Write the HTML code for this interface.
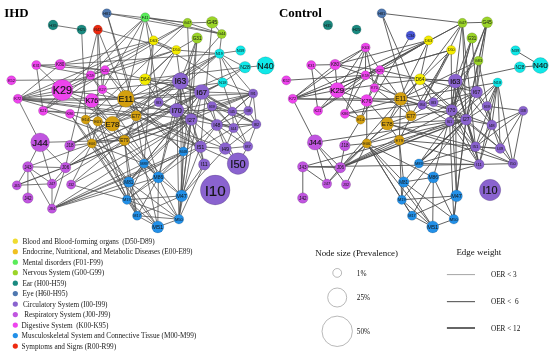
<!DOCTYPE html>
<html><head><meta charset="utf-8"><style>
html,body{margin:0;padding:0;background:#fff;width:550px;height:355px;overflow:hidden}
svg{display:block}
.e line{stroke:#505050;stroke-linecap:round}
.n circle{stroke:rgba(0,0,0,0.35);stroke-width:0.4}
.l text{font-family:"Liberation Sans",Arial,sans-serif;text-anchor:middle;fill:#151515}
.l text.b{stroke:#111;stroke-width:0.15}
.t{font-family:"Liberation Serif","Times New Roman",serif;font-weight:bold;font-size:12.9px;fill:#000}
.lg text{font-family:"Liberation Serif","Times New Roman",serif;font-size:7.26px;fill:#1a1a1a}
.s text{font-family:"Liberation Serif","Times New Roman",serif;fill:#111}
</style></head><body>
<svg width="550" height="355" viewBox="0 0 550 355">
<text class="t" x="4.2" y="16.9">IHD</text>
<text class="t" x="279.0" y="16.9">Control</text>
<g class="e">
<line x1="53.0" y1="25.0" x2="81.6" y2="29.6" stroke-width="0.78"/>
<line x1="81.6" y1="29.6" x2="85.7" y2="119.6" stroke-width="0.78"/>
<line x1="97.8" y1="29.7" x2="69.9" y2="145.6" stroke-width="0.78"/>
<line x1="97.8" y1="29.7" x2="97.8" y2="121.4" stroke-width="0.78"/>
<line x1="97.8" y1="29.7" x2="102.4" y2="89.4" stroke-width="0.78"/>
<line x1="97.8" y1="29.7" x2="125.8" y2="98.8" stroke-width="0.78"/>
<line x1="97.8" y1="29.7" x2="176.3" y2="50.0" stroke-width="0.78"/>
<line x1="106.8" y1="13.3" x2="187.5" y2="22.9" stroke-width="0.78"/>
<line x1="106.8" y1="13.3" x2="221.7" y2="34.0" stroke-width="0.78"/>
<line x1="106.8" y1="13.3" x2="136.1" y2="115.8" stroke-width="0.78"/>
<line x1="106.8" y1="13.3" x2="158.4" y2="177.3" stroke-width="0.78"/>
<line x1="145.2" y1="17.3" x2="187.5" y2="22.9" stroke-width="0.78"/>
<line x1="145.2" y1="17.3" x2="221.7" y2="34.0" stroke-width="0.78"/>
<line x1="145.2" y1="17.3" x2="153.6" y2="40.4" stroke-width="0.78"/>
<line x1="145.2" y1="17.3" x2="62.3" y2="90.1" stroke-width="0.78"/>
<line x1="145.2" y1="17.3" x2="90.6" y2="75.2" stroke-width="0.78"/>
<line x1="145.2" y1="17.3" x2="102.4" y2="89.4" stroke-width="0.78"/>
<line x1="145.2" y1="17.3" x2="125.8" y2="98.8" stroke-width="0.78"/>
<line x1="145.2" y1="17.3" x2="158.7" y2="102.2" stroke-width="0.78"/>
<line x1="187.5" y1="22.9" x2="212.2" y2="22.3" stroke-width="0.78"/>
<line x1="187.5" y1="22.9" x2="221.7" y2="34.0" stroke-width="0.78"/>
<line x1="212.2" y1="22.3" x2="221.7" y2="34.0" stroke-width="0.78"/>
<line x1="221.7" y1="34.0" x2="219.4" y2="53.6" stroke-width="0.78"/>
<line x1="187.5" y1="22.9" x2="62.3" y2="90.1" stroke-width="0.78"/>
<line x1="187.5" y1="22.9" x2="191.2" y2="119.6" stroke-width="0.78"/>
<line x1="187.5" y1="22.9" x2="85.7" y2="119.6" stroke-width="0.78"/>
<line x1="187.5" y1="22.9" x2="43.1" y2="110.8" stroke-width="0.78"/>
<line x1="212.2" y1="22.3" x2="200.6" y2="146.8" stroke-width="0.78"/>
<line x1="221.7" y1="34.0" x2="180.4" y2="81.1" stroke-width="0.78"/>
<line x1="197.1" y1="38.0" x2="176.3" y2="50.0" stroke-width="0.78"/>
<line x1="197.1" y1="38.0" x2="180.4" y2="81.1" stroke-width="0.78"/>
<line x1="197.1" y1="38.0" x2="183.4" y2="151.6" stroke-width="0.78"/>
<line x1="197.1" y1="38.0" x2="176.8" y2="110.3" stroke-width="0.78"/>
<line x1="197.1" y1="38.0" x2="191.2" y2="119.6" stroke-width="0.78"/>
<line x1="153.6" y1="40.4" x2="176.3" y2="50.0" stroke-width="0.78"/>
<line x1="153.6" y1="40.4" x2="145.1" y2="79.3" stroke-width="0.78"/>
<line x1="153.6" y1="40.4" x2="222.7" y2="82.6" stroke-width="0.78"/>
<line x1="153.6" y1="40.4" x2="144.0" y2="163.5" stroke-width="0.78"/>
<line x1="153.6" y1="40.4" x2="60.2" y2="64.6" stroke-width="0.78"/>
<line x1="153.6" y1="40.4" x2="17.8" y2="98.8" stroke-width="0.78"/>
<line x1="176.3" y1="50.0" x2="219.4" y2="53.6" stroke-width="0.78"/>
<line x1="176.3" y1="50.0" x2="180.4" y2="81.1" stroke-width="0.78"/>
<line x1="176.3" y1="50.0" x2="125.8" y2="98.8" stroke-width="0.78"/>
<line x1="176.3" y1="50.0" x2="145.1" y2="79.3" stroke-width="0.78"/>
<line x1="176.3" y1="50.0" x2="90.6" y2="75.2" stroke-width="0.78"/>
<line x1="176.3" y1="50.0" x2="124.4" y2="140.2" stroke-width="0.78"/>
<line x1="219.4" y1="53.6" x2="240.6" y2="50.5" stroke-width="0.78"/>
<line x1="219.4" y1="53.6" x2="245.0" y2="67.2" stroke-width="0.78"/>
<line x1="245.0" y1="67.2" x2="265.5" y2="65.5" stroke-width="0.78"/>
<line x1="219.4" y1="53.6" x2="222.7" y2="82.6" stroke-width="0.78"/>
<line x1="219.4" y1="53.6" x2="253.1" y2="93.5" stroke-width="0.78"/>
<line x1="219.4" y1="53.6" x2="248.3" y2="110.8" stroke-width="0.78"/>
<line x1="219.4" y1="53.6" x2="180.4" y2="81.1" stroke-width="0.78"/>
<line x1="219.4" y1="53.6" x2="60.2" y2="64.6" stroke-width="0.78"/>
<line x1="219.4" y1="53.6" x2="124.4" y2="140.2" stroke-width="0.78"/>
<line x1="219.4" y1="53.6" x2="85.7" y2="119.6" stroke-width="0.78"/>
<line x1="219.4" y1="53.6" x2="69.9" y2="145.6" stroke-width="0.78"/>
<line x1="245.0" y1="67.2" x2="145.1" y2="79.3" stroke-width="0.78"/>
<line x1="245.0" y1="67.2" x2="222.7" y2="82.6" stroke-width="0.78"/>
<line x1="245.0" y1="67.2" x2="112.4" y2="123.7" stroke-width="0.78"/>
<line x1="222.7" y1="82.6" x2="253.1" y2="93.5" stroke-width="0.78"/>
<line x1="222.7" y1="82.6" x2="201.7" y2="92.0" stroke-width="0.78"/>
<line x1="222.7" y1="82.6" x2="91.9" y2="143.4" stroke-width="0.78"/>
<line x1="222.7" y1="82.6" x2="91.8" y2="100.6" stroke-width="0.78"/>
<line x1="222.7" y1="82.6" x2="232.3" y2="111.5" stroke-width="0.78"/>
<line x1="222.7" y1="82.6" x2="65.5" y2="167.6" stroke-width="0.78"/>
<line x1="36.3" y1="65.1" x2="60.2" y2="64.6" stroke-width="0.78"/>
<line x1="36.3" y1="65.1" x2="43.1" y2="110.8" stroke-width="0.78"/>
<line x1="36.3" y1="65.1" x2="90.6" y2="75.2" stroke-width="0.78"/>
<line x1="36.3" y1="65.1" x2="62.3" y2="90.1" stroke-width="0.78"/>
<line x1="36.3" y1="65.1" x2="105.0" y2="70.1" stroke-width="0.78"/>
<line x1="60.2" y1="64.6" x2="17.8" y2="98.8" stroke-width="0.78"/>
<line x1="60.2" y1="64.6" x2="105.0" y2="70.1" stroke-width="0.78"/>
<line x1="11.4" y1="80.3" x2="145.1" y2="79.3" stroke-width="0.78"/>
<line x1="17.8" y1="98.8" x2="62.3" y2="90.1" stroke-width="0.78"/>
<line x1="17.8" y1="98.8" x2="90.6" y2="75.2" stroke-width="0.78"/>
<line x1="17.8" y1="98.8" x2="91.8" y2="100.6" stroke-width="0.78"/>
<line x1="17.8" y1="98.8" x2="125.8" y2="98.8" stroke-width="0.78"/>
<line x1="17.8" y1="98.8" x2="40.1" y2="142.4" stroke-width="0.78"/>
<line x1="17.8" y1="98.8" x2="70.0" y2="113.8" stroke-width="0.78"/>
<line x1="17.8" y1="98.8" x2="180.4" y2="81.1" stroke-width="0.78"/>
<line x1="17.8" y1="98.8" x2="176.8" y2="110.3" stroke-width="0.78"/>
<line x1="17.8" y1="98.8" x2="136.1" y2="115.8" stroke-width="0.78"/>
<line x1="17.8" y1="98.8" x2="191.2" y2="119.6" stroke-width="0.78"/>
<line x1="43.1" y1="110.8" x2="62.3" y2="90.1" stroke-width="0.78"/>
<line x1="43.1" y1="110.8" x2="90.6" y2="75.2" stroke-width="0.78"/>
<line x1="43.1" y1="110.8" x2="136.1" y2="115.8" stroke-width="0.78"/>
<line x1="43.1" y1="110.8" x2="70.0" y2="113.8" stroke-width="0.78"/>
<line x1="43.1" y1="110.8" x2="124.4" y2="140.2" stroke-width="0.78"/>
<line x1="62.3" y1="90.1" x2="91.8" y2="100.6" stroke-width="0.78"/>
<line x1="62.3" y1="90.1" x2="125.8" y2="98.8" stroke-width="0.78"/>
<line x1="62.3" y1="90.1" x2="176.3" y2="50.0" stroke-width="0.78"/>
<line x1="62.3" y1="90.1" x2="112.4" y2="123.7" stroke-width="0.78"/>
<line x1="90.6" y1="75.2" x2="105.0" y2="70.1" stroke-width="0.78"/>
<line x1="90.6" y1="75.2" x2="102.4" y2="89.4" stroke-width="0.78"/>
<line x1="90.6" y1="75.2" x2="158.4" y2="177.3" stroke-width="0.78"/>
<line x1="105.0" y1="70.1" x2="102.4" y2="89.4" stroke-width="0.78"/>
<line x1="105.0" y1="70.1" x2="125.8" y2="98.8" stroke-width="0.78"/>
<line x1="105.0" y1="70.1" x2="183.4" y2="151.6" stroke-width="0.78"/>
<line x1="105.0" y1="70.1" x2="201.7" y2="92.0" stroke-width="0.78"/>
<line x1="102.4" y1="89.4" x2="91.8" y2="100.6" stroke-width="0.78"/>
<line x1="102.4" y1="89.4" x2="200.6" y2="146.8" stroke-width="0.78"/>
<line x1="91.8" y1="100.6" x2="125.8" y2="98.8" stroke-width="0.78"/>
<line x1="91.8" y1="100.6" x2="112.4" y2="123.7" stroke-width="0.78"/>
<line x1="91.8" y1="100.6" x2="178.9" y2="219.2" stroke-width="0.78"/>
<line x1="91.8" y1="100.6" x2="137.1" y2="215.7" stroke-width="0.78"/>
<line x1="70.0" y1="113.8" x2="85.7" y2="119.6" stroke-width="0.78"/>
<line x1="70.0" y1="113.8" x2="91.9" y2="143.4" stroke-width="0.78"/>
<line x1="70.0" y1="113.8" x2="126.9" y2="199.8" stroke-width="0.78"/>
<line x1="85.7" y1="119.6" x2="97.8" y2="121.4" stroke-width="0.78"/>
<line x1="85.7" y1="119.6" x2="112.4" y2="123.7" stroke-width="0.78"/>
<line x1="85.7" y1="119.6" x2="91.9" y2="143.4" stroke-width="0.78"/>
<line x1="85.7" y1="119.6" x2="128.8" y2="182.0" stroke-width="0.78"/>
<line x1="85.7" y1="119.6" x2="180.4" y2="81.1" stroke-width="0.78"/>
<line x1="85.7" y1="119.6" x2="137.1" y2="215.7" stroke-width="0.78"/>
<line x1="97.8" y1="121.4" x2="112.4" y2="123.7" stroke-width="0.78"/>
<line x1="97.8" y1="121.4" x2="91.9" y2="143.4" stroke-width="0.78"/>
<line x1="97.8" y1="121.4" x2="126.9" y2="199.8" stroke-width="0.78"/>
<line x1="97.8" y1="121.4" x2="158.4" y2="177.3" stroke-width="0.78"/>
<line x1="125.8" y1="98.8" x2="136.1" y2="115.8" stroke-width="0.78"/>
<line x1="125.8" y1="98.8" x2="201.7" y2="92.0" stroke-width="0.78"/>
<line x1="125.8" y1="98.8" x2="191.2" y2="119.6" stroke-width="0.78"/>
<line x1="125.8" y1="98.8" x2="183.4" y2="151.6" stroke-width="0.78"/>
<line x1="125.8" y1="98.8" x2="112.4" y2="123.7" stroke-width="0.78"/>
<line x1="125.8" y1="98.8" x2="253.1" y2="93.5" stroke-width="0.78"/>
<line x1="112.4" y1="123.7" x2="136.1" y2="115.8" stroke-width="0.78"/>
<line x1="112.4" y1="123.7" x2="124.4" y2="140.2" stroke-width="0.78"/>
<line x1="112.4" y1="123.7" x2="91.9" y2="143.4" stroke-width="0.78"/>
<line x1="112.4" y1="123.7" x2="200.6" y2="146.8" stroke-width="0.78"/>
<line x1="112.4" y1="123.7" x2="180.4" y2="81.1" stroke-width="0.78"/>
<line x1="112.4" y1="123.7" x2="181.6" y2="195.9" stroke-width="0.78"/>
<line x1="136.1" y1="115.8" x2="176.8" y2="110.3" stroke-width="0.78"/>
<line x1="136.1" y1="115.8" x2="158.7" y2="102.2" stroke-width="0.78"/>
<line x1="136.1" y1="115.8" x2="200.6" y2="146.8" stroke-width="0.78"/>
<line x1="136.1" y1="115.8" x2="225.3" y2="148.5" stroke-width="0.78"/>
<line x1="136.1" y1="115.8" x2="124.4" y2="140.2" stroke-width="0.78"/>
<line x1="136.1" y1="115.8" x2="144.0" y2="163.5" stroke-width="0.78"/>
<line x1="136.1" y1="115.8" x2="180.4" y2="81.1" stroke-width="0.78"/>
<line x1="124.4" y1="140.2" x2="91.9" y2="143.4" stroke-width="0.78"/>
<line x1="124.4" y1="140.2" x2="158.4" y2="177.3" stroke-width="0.78"/>
<line x1="124.4" y1="140.2" x2="128.8" y2="182.0" stroke-width="0.78"/>
<line x1="124.4" y1="140.2" x2="201.7" y2="92.0" stroke-width="0.78"/>
<line x1="124.4" y1="140.2" x2="212.0" y2="106.2" stroke-width="0.78"/>
<line x1="124.4" y1="140.2" x2="137.1" y2="215.7" stroke-width="0.78"/>
<line x1="124.4" y1="140.2" x2="253.1" y2="93.5" stroke-width="0.78"/>
<line x1="91.9" y1="143.4" x2="128.8" y2="182.0" stroke-width="0.78"/>
<line x1="91.9" y1="143.4" x2="126.9" y2="199.8" stroke-width="0.78"/>
<line x1="91.9" y1="143.4" x2="144.0" y2="163.5" stroke-width="0.78"/>
<line x1="91.9" y1="143.4" x2="201.7" y2="92.0" stroke-width="0.78"/>
<line x1="91.9" y1="143.4" x2="191.2" y2="119.6" stroke-width="0.78"/>
<line x1="91.9" y1="143.4" x2="157.8" y2="226.9" stroke-width="0.78"/>
<line x1="145.1" y1="79.3" x2="180.4" y2="81.1" stroke-width="0.78"/>
<line x1="145.1" y1="79.3" x2="158.7" y2="102.2" stroke-width="0.78"/>
<line x1="145.1" y1="79.3" x2="201.7" y2="92.0" stroke-width="0.78"/>
<line x1="145.1" y1="79.3" x2="216.9" y2="125.0" stroke-width="0.78"/>
<line x1="158.7" y1="102.2" x2="180.4" y2="81.1" stroke-width="0.78"/>
<line x1="158.7" y1="102.2" x2="176.8" y2="110.3" stroke-width="0.78"/>
<line x1="158.7" y1="102.2" x2="191.2" y2="119.6" stroke-width="0.78"/>
<line x1="158.7" y1="102.2" x2="233.6" y2="128.0" stroke-width="0.78"/>
<line x1="180.4" y1="81.1" x2="201.7" y2="92.0" stroke-width="0.78"/>
<line x1="180.4" y1="81.1" x2="176.8" y2="110.3" stroke-width="0.78"/>
<line x1="180.4" y1="81.1" x2="191.2" y2="119.6" stroke-width="0.78"/>
<line x1="180.4" y1="81.1" x2="232.3" y2="111.5" stroke-width="0.78"/>
<line x1="180.4" y1="81.1" x2="183.4" y2="151.6" stroke-width="0.78"/>
<line x1="180.4" y1="81.1" x2="181.6" y2="195.9" stroke-width="0.78"/>
<line x1="180.4" y1="81.1" x2="256.4" y2="124.2" stroke-width="0.78"/>
<line x1="201.7" y1="92.0" x2="212.0" y2="106.2" stroke-width="0.78"/>
<line x1="201.7" y1="92.0" x2="191.2" y2="119.6" stroke-width="0.78"/>
<line x1="201.7" y1="92.0" x2="216.9" y2="125.0" stroke-width="0.78"/>
<line x1="201.7" y1="92.0" x2="253.1" y2="93.5" stroke-width="0.78"/>
<line x1="201.7" y1="92.0" x2="256.4" y2="124.2" stroke-width="0.78"/>
<line x1="201.7" y1="92.0" x2="233.6" y2="128.0" stroke-width="0.78"/>
<line x1="201.7" y1="92.0" x2="178.9" y2="219.2" stroke-width="0.78"/>
<line x1="176.8" y1="110.3" x2="191.2" y2="119.6" stroke-width="0.78"/>
<line x1="176.8" y1="110.3" x2="200.6" y2="146.8" stroke-width="0.78"/>
<line x1="176.8" y1="110.3" x2="233.6" y2="128.0" stroke-width="0.78"/>
<line x1="176.8" y1="110.3" x2="158.4" y2="177.3" stroke-width="0.78"/>
<line x1="176.8" y1="110.3" x2="204.2" y2="164.4" stroke-width="0.78"/>
<line x1="176.8" y1="110.3" x2="178.9" y2="219.2" stroke-width="0.78"/>
<line x1="176.8" y1="110.3" x2="248.3" y2="110.8" stroke-width="0.78"/>
<line x1="253.1" y1="93.5" x2="248.3" y2="110.8" stroke-width="0.78"/>
<line x1="253.1" y1="93.5" x2="256.4" y2="124.2" stroke-width="0.78"/>
<line x1="253.1" y1="93.5" x2="212.0" y2="106.2" stroke-width="0.78"/>
<line x1="253.1" y1="93.5" x2="216.9" y2="125.0" stroke-width="0.78"/>
<line x1="253.1" y1="93.5" x2="232.3" y2="111.5" stroke-width="0.78"/>
<line x1="253.1" y1="93.5" x2="176.8" y2="110.3" stroke-width="0.78"/>
<line x1="253.1" y1="93.5" x2="191.2" y2="119.6" stroke-width="0.78"/>
<line x1="212.0" y1="106.2" x2="216.9" y2="125.0" stroke-width="0.78"/>
<line x1="212.0" y1="106.2" x2="256.4" y2="124.2" stroke-width="0.78"/>
<line x1="212.0" y1="106.2" x2="232.3" y2="111.5" stroke-width="0.78"/>
<line x1="212.0" y1="106.2" x2="233.6" y2="128.0" stroke-width="0.78"/>
<line x1="232.3" y1="111.5" x2="233.6" y2="128.0" stroke-width="0.78"/>
<line x1="232.3" y1="111.5" x2="216.9" y2="125.0" stroke-width="0.78"/>
<line x1="232.3" y1="111.5" x2="248.0" y2="146.4" stroke-width="0.78"/>
<line x1="232.3" y1="111.5" x2="256.4" y2="124.2" stroke-width="0.78"/>
<line x1="248.3" y1="110.8" x2="256.4" y2="124.2" stroke-width="0.78"/>
<line x1="248.3" y1="110.8" x2="216.9" y2="125.0" stroke-width="0.78"/>
<line x1="248.3" y1="110.8" x2="233.6" y2="128.0" stroke-width="0.78"/>
<line x1="256.4" y1="124.2" x2="216.9" y2="125.0" stroke-width="0.78"/>
<line x1="256.4" y1="124.2" x2="233.6" y2="128.0" stroke-width="0.78"/>
<line x1="256.4" y1="124.2" x2="248.0" y2="146.4" stroke-width="0.78"/>
<line x1="256.4" y1="124.2" x2="225.3" y2="148.5" stroke-width="0.78"/>
<line x1="233.6" y1="128.0" x2="216.9" y2="125.0" stroke-width="0.78"/>
<line x1="233.6" y1="128.0" x2="248.0" y2="146.4" stroke-width="0.78"/>
<line x1="233.6" y1="128.0" x2="225.3" y2="148.5" stroke-width="0.78"/>
<line x1="233.6" y1="128.0" x2="200.6" y2="146.8" stroke-width="0.78"/>
<line x1="191.2" y1="119.6" x2="216.9" y2="125.0" stroke-width="0.78"/>
<line x1="191.2" y1="119.6" x2="200.6" y2="146.8" stroke-width="0.78"/>
<line x1="191.2" y1="119.6" x2="225.3" y2="148.5" stroke-width="0.78"/>
<line x1="191.2" y1="119.6" x2="204.2" y2="164.4" stroke-width="0.78"/>
<line x1="191.2" y1="119.6" x2="181.6" y2="195.9" stroke-width="0.78"/>
<line x1="191.2" y1="119.6" x2="178.9" y2="219.2" stroke-width="0.78"/>
<line x1="191.2" y1="119.6" x2="183.4" y2="151.6" stroke-width="0.78"/>
<line x1="216.9" y1="125.0" x2="200.6" y2="146.8" stroke-width="0.78"/>
<line x1="216.9" y1="125.0" x2="225.3" y2="148.5" stroke-width="0.78"/>
<line x1="216.9" y1="125.0" x2="248.0" y2="146.4" stroke-width="0.78"/>
<line x1="216.9" y1="125.0" x2="238.0" y2="163.6" stroke-width="0.78"/>
<line x1="200.6" y1="146.8" x2="225.3" y2="148.5" stroke-width="0.78"/>
<line x1="200.6" y1="146.8" x2="204.2" y2="164.4" stroke-width="0.78"/>
<line x1="200.6" y1="146.8" x2="238.0" y2="163.6" stroke-width="0.78"/>
<line x1="225.3" y1="148.5" x2="238.0" y2="163.6" stroke-width="0.78"/>
<line x1="225.3" y1="148.5" x2="248.0" y2="146.4" stroke-width="0.78"/>
<line x1="248.0" y1="146.4" x2="238.0" y2="163.6" stroke-width="0.78"/>
<line x1="183.4" y1="151.6" x2="181.6" y2="195.9" stroke-width="0.78"/>
<line x1="183.4" y1="151.6" x2="178.9" y2="219.2" stroke-width="0.78"/>
<line x1="183.4" y1="151.6" x2="158.4" y2="177.3" stroke-width="0.78"/>
<line x1="183.4" y1="151.6" x2="128.8" y2="182.0" stroke-width="0.78"/>
<line x1="200.6" y1="146.8" x2="181.6" y2="195.9" stroke-width="0.78"/>
<line x1="204.2" y1="164.4" x2="181.6" y2="195.9" stroke-width="0.78"/>
<line x1="204.2" y1="164.4" x2="178.9" y2="219.2" stroke-width="0.78"/>
<line x1="200.6" y1="146.8" x2="158.4" y2="177.3" stroke-width="0.78"/>
<line x1="225.3" y1="148.5" x2="181.6" y2="195.9" stroke-width="0.78"/>
<line x1="144.0" y1="163.5" x2="128.8" y2="182.0" stroke-width="0.78"/>
<line x1="144.0" y1="163.5" x2="158.4" y2="177.3" stroke-width="0.78"/>
<line x1="144.0" y1="163.5" x2="126.9" y2="199.8" stroke-width="0.78"/>
<line x1="144.0" y1="163.5" x2="157.8" y2="226.9" stroke-width="0.78"/>
<line x1="144.0" y1="163.5" x2="191.2" y2="119.6" stroke-width="0.78"/>
<line x1="144.0" y1="163.5" x2="201.7" y2="92.0" stroke-width="0.78"/>
<line x1="158.4" y1="177.3" x2="126.9" y2="199.8" stroke-width="0.78"/>
<line x1="158.4" y1="177.3" x2="137.1" y2="215.7" stroke-width="0.78"/>
<line x1="158.4" y1="177.3" x2="157.8" y2="226.9" stroke-width="0.78"/>
<line x1="158.4" y1="177.3" x2="178.9" y2="219.2" stroke-width="0.78"/>
<line x1="158.4" y1="177.3" x2="181.6" y2="195.9" stroke-width="0.78"/>
<line x1="158.4" y1="177.3" x2="180.4" y2="81.1" stroke-width="0.78"/>
<line x1="128.8" y1="182.0" x2="126.9" y2="199.8" stroke-width="0.78"/>
<line x1="128.8" y1="182.0" x2="137.1" y2="215.7" stroke-width="0.78"/>
<line x1="128.8" y1="182.0" x2="157.8" y2="226.9" stroke-width="0.78"/>
<line x1="128.8" y1="182.0" x2="178.9" y2="219.2" stroke-width="0.78"/>
<line x1="128.8" y1="182.0" x2="201.7" y2="92.0" stroke-width="0.78"/>
<line x1="128.8" y1="182.0" x2="191.2" y2="119.6" stroke-width="0.78"/>
<line x1="126.9" y1="199.8" x2="137.1" y2="215.7" stroke-width="0.78"/>
<line x1="126.9" y1="199.8" x2="157.8" y2="226.9" stroke-width="0.78"/>
<line x1="126.9" y1="199.8" x2="178.9" y2="219.2" stroke-width="0.78"/>
<line x1="126.9" y1="199.8" x2="216.9" y2="125.0" stroke-width="0.78"/>
<line x1="181.6" y1="195.9" x2="137.1" y2="215.7" stroke-width="0.78"/>
<line x1="181.6" y1="195.9" x2="126.9" y2="199.8" stroke-width="0.78"/>
<line x1="181.6" y1="195.9" x2="178.9" y2="219.2" stroke-width="0.78"/>
<line x1="137.1" y1="215.7" x2="157.8" y2="226.9" stroke-width="0.78"/>
<line x1="157.8" y1="226.9" x2="178.9" y2="219.2" stroke-width="0.78"/>
<line x1="137.1" y1="215.7" x2="178.9" y2="219.2" stroke-width="0.78"/>
<line x1="40.1" y1="142.4" x2="27.9" y2="166.8" stroke-width="0.78"/>
<line x1="40.1" y1="142.4" x2="65.5" y2="167.6" stroke-width="0.78"/>
<line x1="40.1" y1="142.4" x2="52.0" y2="183.8" stroke-width="0.78"/>
<line x1="40.1" y1="142.4" x2="124.4" y2="140.2" stroke-width="0.78"/>
<line x1="27.9" y1="166.8" x2="65.5" y2="167.6" stroke-width="0.78"/>
<line x1="27.9" y1="166.8" x2="52.0" y2="183.8" stroke-width="0.78"/>
<line x1="27.9" y1="166.8" x2="16.8" y2="185.3" stroke-width="0.78"/>
<line x1="27.9" y1="166.8" x2="27.9" y2="198.0" stroke-width="0.78"/>
<line x1="27.9" y1="166.8" x2="52.0" y2="208.7" stroke-width="0.78"/>
<line x1="27.9" y1="166.8" x2="91.9" y2="143.4" stroke-width="0.78"/>
<line x1="16.8" y1="185.3" x2="52.0" y2="183.8" stroke-width="0.78"/>
<line x1="52.0" y1="183.8" x2="65.5" y2="167.6" stroke-width="0.78"/>
<line x1="52.0" y1="183.8" x2="52.0" y2="208.7" stroke-width="0.78"/>
<line x1="65.5" y1="167.6" x2="52.0" y2="208.7" stroke-width="0.78"/>
<line x1="65.5" y1="167.6" x2="69.9" y2="145.6" stroke-width="0.78"/>
<line x1="52.0" y1="183.8" x2="124.4" y2="140.2" stroke-width="0.78"/>
<line x1="69.9" y1="145.6" x2="91.9" y2="143.4" stroke-width="0.78"/>
<line x1="71.1" y1="184.6" x2="91.9" y2="143.4" stroke-width="0.78"/>
<line x1="65.5" y1="167.6" x2="91.9" y2="143.4" stroke-width="0.78"/>
<line x1="65.5" y1="167.6" x2="201.7" y2="92.0" stroke-width="0.78"/>
<line x1="69.9" y1="145.6" x2="180.4" y2="81.1" stroke-width="0.78"/>
<line x1="71.1" y1="184.6" x2="191.2" y2="119.6" stroke-width="0.78"/>
<line x1="52.0" y1="208.7" x2="128.8" y2="182.0" stroke-width="0.78"/>
<line x1="52.0" y1="208.7" x2="144.0" y2="163.5" stroke-width="0.78"/>
<line x1="52.0" y1="208.7" x2="158.4" y2="177.3" stroke-width="0.78"/>
<line x1="52.0" y1="208.7" x2="200.6" y2="146.8" stroke-width="0.78"/>
<line x1="52.0" y1="208.7" x2="183.4" y2="151.6" stroke-width="0.78"/>
<line x1="52.0" y1="208.7" x2="191.2" y2="119.6" stroke-width="0.78"/>
<line x1="71.1" y1="184.6" x2="126.9" y2="199.8" stroke-width="0.78"/>
<line x1="71.1" y1="184.6" x2="124.4" y2="140.2" stroke-width="0.78"/>
<line x1="69.9" y1="145.6" x2="112.4" y2="123.7" stroke-width="0.78"/>
<line x1="16.8" y1="185.3" x2="191.2" y2="119.6" stroke-width="1.1"/>
<line x1="381.7" y1="13.3" x2="462.4" y2="22.9" stroke-width="0.9"/>
<line x1="381.7" y1="13.3" x2="422.2" y2="104.9" stroke-width="0.9"/>
<line x1="381.7" y1="13.3" x2="411.0" y2="115.8" stroke-width="0.9"/>
<line x1="410.7" y1="35.5" x2="360.6" y2="119.6" stroke-width="0.9"/>
<line x1="515.5" y1="50.5" x2="540.4" y2="65.5" stroke-width="0.9"/>
<line x1="519.9" y1="67.2" x2="540.4" y2="65.5" stroke-width="0.9"/>
<line x1="519.9" y1="67.2" x2="455.3" y2="81.1" stroke-width="0.9"/>
<line x1="497.6" y1="82.6" x2="491.8" y2="125.0" stroke-width="0.9"/>
<line x1="497.6" y1="82.6" x2="466.1" y2="119.6" stroke-width="0.9"/>
<line x1="497.6" y1="82.6" x2="449.6" y2="121.7" stroke-width="0.9"/>
<line x1="497.6" y1="82.6" x2="475.5" y2="146.8" stroke-width="0.9"/>
<line x1="497.6" y1="82.6" x2="500.2" y2="148.5" stroke-width="0.9"/>
<line x1="497.6" y1="82.6" x2="486.9" y2="106.2" stroke-width="0.9"/>
<line x1="497.6" y1="82.6" x2="400.7" y2="98.8" stroke-width="0.9"/>
<line x1="497.6" y1="82.6" x2="479.1" y2="164.4" stroke-width="0.9"/>
<line x1="497.6" y1="82.6" x2="512.9" y2="163.6" stroke-width="0.9"/>
<line x1="462.4" y1="22.9" x2="487.1" y2="22.3" stroke-width="0.9"/>
<line x1="462.4" y1="22.9" x2="337.2" y2="90.1" stroke-width="0.9"/>
<line x1="462.4" y1="22.9" x2="365.5" y2="75.2" stroke-width="0.9"/>
<line x1="462.4" y1="22.9" x2="420.0" y2="79.3" stroke-width="0.9"/>
<line x1="462.4" y1="22.9" x2="422.2" y2="104.9" stroke-width="0.9"/>
<line x1="462.4" y1="22.9" x2="455.3" y2="81.1" stroke-width="0.9"/>
<line x1="462.4" y1="22.9" x2="466.1" y2="119.6" stroke-width="0.9"/>
<line x1="462.4" y1="22.9" x2="475.5" y2="146.8" stroke-width="0.9"/>
<line x1="487.1" y1="22.3" x2="478.4" y2="60.8" stroke-width="0.9"/>
<line x1="487.1" y1="22.3" x2="451.7" y2="110.3" stroke-width="0.9"/>
<line x1="487.1" y1="22.3" x2="466.1" y2="119.6" stroke-width="0.9"/>
<line x1="487.1" y1="22.3" x2="449.6" y2="121.7" stroke-width="0.9"/>
<line x1="487.1" y1="22.3" x2="476.6" y2="92.0" stroke-width="0.9"/>
<line x1="472.0" y1="38.0" x2="455.3" y2="81.1" stroke-width="0.9"/>
<line x1="472.0" y1="38.0" x2="451.7" y2="110.3" stroke-width="0.9"/>
<line x1="472.0" y1="38.0" x2="449.6" y2="121.7" stroke-width="0.9"/>
<line x1="472.0" y1="38.0" x2="476.6" y2="92.0" stroke-width="0.9"/>
<line x1="478.4" y1="60.8" x2="455.3" y2="81.1" stroke-width="0.9"/>
<line x1="478.4" y1="60.8" x2="476.6" y2="92.0" stroke-width="0.9"/>
<line x1="478.4" y1="60.8" x2="466.1" y2="119.6" stroke-width="0.9"/>
<line x1="478.4" y1="60.8" x2="491.8" y2="125.0" stroke-width="0.9"/>
<line x1="478.4" y1="60.8" x2="400.7" y2="98.8" stroke-width="0.9"/>
<line x1="428.5" y1="40.4" x2="420.0" y2="79.3" stroke-width="0.9"/>
<line x1="428.5" y1="40.4" x2="379.9" y2="70.1" stroke-width="0.9"/>
<line x1="428.5" y1="40.4" x2="337.2" y2="90.1" stroke-width="0.9"/>
<line x1="428.5" y1="40.4" x2="292.7" y2="98.8" stroke-width="0.9"/>
<line x1="428.5" y1="40.4" x2="387.3" y2="123.7" stroke-width="0.9"/>
<line x1="428.5" y1="40.4" x2="335.1" y2="64.6" stroke-width="0.9"/>
<line x1="451.2" y1="50.0" x2="379.9" y2="70.1" stroke-width="0.9"/>
<line x1="451.2" y1="50.0" x2="400.7" y2="98.8" stroke-width="0.9"/>
<line x1="451.2" y1="50.0" x2="422.2" y2="104.9" stroke-width="0.9"/>
<line x1="451.2" y1="50.0" x2="411.0" y2="115.8" stroke-width="0.9"/>
<line x1="451.2" y1="50.0" x2="451.7" y2="110.3" stroke-width="0.9"/>
<line x1="420.0" y1="79.3" x2="455.3" y2="81.1" stroke-width="0.9"/>
<line x1="420.0" y1="79.3" x2="451.7" y2="110.3" stroke-width="0.9"/>
<line x1="420.0" y1="79.3" x2="337.2" y2="90.1" stroke-width="0.9"/>
<line x1="420.0" y1="79.3" x2="433.6" y2="102.2" stroke-width="0.9"/>
<line x1="420.0" y1="79.3" x2="400.7" y2="98.8" stroke-width="0.9"/>
<line x1="420.0" y1="79.3" x2="466.1" y2="119.6" stroke-width="0.9"/>
<line x1="420.0" y1="79.3" x2="387.3" y2="123.7" stroke-width="0.9"/>
<line x1="311.2" y1="65.1" x2="335.1" y2="64.6" stroke-width="0.9"/>
<line x1="311.2" y1="65.1" x2="318.0" y2="110.8" stroke-width="0.9"/>
<line x1="311.2" y1="65.1" x2="337.2" y2="90.1" stroke-width="0.9"/>
<line x1="335.1" y1="64.6" x2="365.6" y2="47.5" stroke-width="0.9"/>
<line x1="335.1" y1="64.6" x2="337.2" y2="90.1" stroke-width="0.9"/>
<line x1="335.1" y1="64.6" x2="379.9" y2="70.1" stroke-width="0.9"/>
<line x1="335.1" y1="64.6" x2="365.5" y2="75.2" stroke-width="0.9"/>
<line x1="365.6" y1="47.5" x2="337.2" y2="90.1" stroke-width="0.9"/>
<line x1="365.6" y1="47.5" x2="365.5" y2="75.2" stroke-width="0.9"/>
<line x1="365.6" y1="47.5" x2="379.9" y2="70.1" stroke-width="0.9"/>
<line x1="365.6" y1="47.5" x2="344.9" y2="113.8" stroke-width="0.9"/>
<line x1="365.6" y1="47.5" x2="292.7" y2="98.8" stroke-width="0.9"/>
<line x1="365.6" y1="47.5" x2="374.4" y2="87.9" stroke-width="0.9"/>
<line x1="292.7" y1="98.8" x2="335.1" y2="64.6" stroke-width="0.9"/>
<line x1="292.7" y1="98.8" x2="337.2" y2="90.1" stroke-width="0.9"/>
<line x1="292.7" y1="98.8" x2="315.0" y2="142.4" stroke-width="0.9"/>
<line x1="292.7" y1="98.8" x2="365.5" y2="75.2" stroke-width="0.9"/>
<line x1="292.7" y1="98.8" x2="379.9" y2="70.1" stroke-width="0.9"/>
<line x1="292.7" y1="98.8" x2="366.7" y2="100.6" stroke-width="0.9"/>
<line x1="292.7" y1="98.8" x2="400.7" y2="98.8" stroke-width="0.9"/>
<line x1="286.3" y1="80.3" x2="365.5" y2="75.2" stroke-width="0.9"/>
<line x1="318.0" y1="110.8" x2="337.2" y2="90.1" stroke-width="0.9"/>
<line x1="318.0" y1="110.8" x2="379.9" y2="70.1" stroke-width="0.9"/>
<line x1="318.0" y1="110.8" x2="365.5" y2="75.2" stroke-width="0.9"/>
<line x1="337.2" y1="90.1" x2="366.7" y2="100.6" stroke-width="0.9"/>
<line x1="337.2" y1="90.1" x2="360.6" y2="119.6" stroke-width="0.9"/>
<line x1="365.5" y1="75.2" x2="379.9" y2="70.1" stroke-width="0.9"/>
<line x1="365.5" y1="75.2" x2="344.9" y2="113.8" stroke-width="0.9"/>
<line x1="365.5" y1="75.2" x2="455.3" y2="81.1" stroke-width="0.9"/>
<line x1="365.5" y1="75.2" x2="400.7" y2="98.8" stroke-width="0.9"/>
<line x1="379.9" y1="70.1" x2="374.4" y2="87.9" stroke-width="0.9"/>
<line x1="379.9" y1="70.1" x2="400.7" y2="98.8" stroke-width="0.9"/>
<line x1="379.9" y1="70.1" x2="366.7" y2="100.6" stroke-width="0.9"/>
<line x1="379.9" y1="70.1" x2="476.6" y2="92.0" stroke-width="0.9"/>
<line x1="379.9" y1="70.1" x2="451.2" y2="50.0" stroke-width="0.9"/>
<line x1="374.4" y1="87.9" x2="366.7" y2="100.6" stroke-width="0.9"/>
<line x1="374.4" y1="87.9" x2="411.0" y2="115.8" stroke-width="0.9"/>
<line x1="374.4" y1="87.9" x2="451.7" y2="110.3" stroke-width="0.9"/>
<line x1="366.7" y1="100.6" x2="400.7" y2="98.8" stroke-width="0.9"/>
<line x1="366.7" y1="100.6" x2="422.2" y2="104.9" stroke-width="0.9"/>
<line x1="366.7" y1="100.6" x2="387.3" y2="123.7" stroke-width="0.9"/>
<line x1="366.7" y1="100.6" x2="360.6" y2="119.6" stroke-width="0.9"/>
<line x1="344.9" y1="113.8" x2="360.6" y2="119.6" stroke-width="0.9"/>
<line x1="344.9" y1="113.8" x2="400.7" y2="98.8" stroke-width="0.9"/>
<line x1="344.9" y1="113.8" x2="433.6" y2="102.2" stroke-width="0.9"/>
<line x1="360.6" y1="119.6" x2="411.0" y2="115.8" stroke-width="0.9"/>
<line x1="360.6" y1="119.6" x2="344.8" y2="145.6" stroke-width="0.9"/>
<line x1="366.7" y1="100.6" x2="366.8" y2="143.4" stroke-width="0.9"/>
<line x1="400.7" y1="98.8" x2="411.0" y2="115.8" stroke-width="0.9"/>
<line x1="400.7" y1="98.8" x2="422.2" y2="104.9" stroke-width="0.9"/>
<line x1="400.7" y1="98.8" x2="466.1" y2="119.6" stroke-width="0.9"/>
<line x1="400.7" y1="98.8" x2="399.3" y2="140.2" stroke-width="0.9"/>
<line x1="387.3" y1="123.7" x2="411.0" y2="115.8" stroke-width="0.9"/>
<line x1="387.3" y1="123.7" x2="399.3" y2="140.2" stroke-width="0.9"/>
<line x1="387.3" y1="123.7" x2="466.1" y2="119.6" stroke-width="0.9"/>
<line x1="387.3" y1="123.7" x2="366.8" y2="143.4" stroke-width="0.9"/>
<line x1="387.3" y1="123.7" x2="475.5" y2="146.8" stroke-width="0.9"/>
<line x1="387.3" y1="123.7" x2="512.9" y2="163.6" stroke-width="0.9"/>
<line x1="411.0" y1="115.8" x2="433.6" y2="102.2" stroke-width="0.9"/>
<line x1="411.0" y1="115.8" x2="451.7" y2="110.3" stroke-width="0.9"/>
<line x1="411.0" y1="115.8" x2="399.3" y2="140.2" stroke-width="0.9"/>
<line x1="399.3" y1="140.2" x2="403.7" y2="182.0" stroke-width="0.9"/>
<line x1="399.3" y1="140.2" x2="401.8" y2="199.8" stroke-width="0.9"/>
<line x1="399.3" y1="140.2" x2="466.1" y2="119.6" stroke-width="0.9"/>
<line x1="399.3" y1="140.2" x2="479.1" y2="164.4" stroke-width="0.9"/>
<line x1="399.3" y1="140.2" x2="500.2" y2="148.5" stroke-width="0.9"/>
<line x1="366.8" y1="143.4" x2="403.7" y2="182.0" stroke-width="0.9"/>
<line x1="366.8" y1="143.4" x2="401.8" y2="199.8" stroke-width="0.9"/>
<line x1="366.8" y1="143.4" x2="432.7" y2="226.9" stroke-width="0.9"/>
<line x1="366.8" y1="143.4" x2="433.3" y2="177.3" stroke-width="0.9"/>
<line x1="366.8" y1="143.4" x2="466.1" y2="119.6" stroke-width="0.9"/>
<line x1="366.8" y1="143.4" x2="412.0" y2="215.7" stroke-width="0.9"/>
<line x1="422.2" y1="104.9" x2="455.3" y2="81.1" stroke-width="0.9"/>
<line x1="433.6" y1="102.2" x2="455.3" y2="81.1" stroke-width="0.9"/>
<line x1="433.6" y1="102.2" x2="451.7" y2="110.3" stroke-width="0.9"/>
<line x1="422.2" y1="104.9" x2="449.6" y2="121.7" stroke-width="0.9"/>
<line x1="433.6" y1="102.2" x2="476.6" y2="92.0" stroke-width="0.9"/>
<line x1="455.3" y1="81.1" x2="476.6" y2="92.0" stroke-width="0.9"/>
<line x1="455.3" y1="81.1" x2="451.7" y2="110.3" stroke-width="0.9"/>
<line x1="455.3" y1="81.1" x2="466.1" y2="119.6" stroke-width="0.9"/>
<line x1="455.3" y1="81.1" x2="449.6" y2="121.7" stroke-width="0.9"/>
<line x1="455.3" y1="81.1" x2="491.8" y2="125.0" stroke-width="0.9"/>
<line x1="455.3" y1="81.1" x2="475.5" y2="146.8" stroke-width="0.9"/>
<line x1="455.3" y1="81.1" x2="479.1" y2="164.4" stroke-width="0.9"/>
<line x1="455.3" y1="81.1" x2="456.5" y2="195.9" stroke-width="0.9"/>
<line x1="476.6" y1="92.0" x2="451.7" y2="110.3" stroke-width="0.9"/>
<line x1="476.6" y1="92.0" x2="466.1" y2="119.6" stroke-width="0.9"/>
<line x1="476.6" y1="92.0" x2="449.6" y2="121.7" stroke-width="0.9"/>
<line x1="476.6" y1="92.0" x2="486.9" y2="106.2" stroke-width="0.9"/>
<line x1="476.6" y1="92.0" x2="491.8" y2="125.0" stroke-width="0.9"/>
<line x1="451.7" y1="110.3" x2="449.6" y2="121.7" stroke-width="0.9"/>
<line x1="451.7" y1="110.3" x2="466.1" y2="119.6" stroke-width="0.9"/>
<line x1="451.7" y1="110.3" x2="491.8" y2="125.0" stroke-width="0.9"/>
<line x1="451.7" y1="110.3" x2="475.5" y2="146.8" stroke-width="0.9"/>
<line x1="451.7" y1="110.3" x2="479.1" y2="164.4" stroke-width="0.9"/>
<line x1="451.7" y1="110.3" x2="456.5" y2="195.9" stroke-width="0.9"/>
<line x1="451.7" y1="110.3" x2="500.2" y2="148.5" stroke-width="0.9"/>
<line x1="449.6" y1="121.7" x2="466.1" y2="119.6" stroke-width="0.9"/>
<line x1="449.6" y1="121.7" x2="475.5" y2="146.8" stroke-width="0.9"/>
<line x1="449.6" y1="121.7" x2="479.1" y2="164.4" stroke-width="0.9"/>
<line x1="449.6" y1="121.7" x2="453.8" y2="219.2" stroke-width="0.9"/>
<line x1="486.9" y1="106.2" x2="523.2" y2="110.8" stroke-width="0.9"/>
<line x1="486.9" y1="106.2" x2="491.8" y2="125.0" stroke-width="0.9"/>
<line x1="486.9" y1="106.2" x2="466.1" y2="119.6" stroke-width="0.9"/>
<line x1="523.2" y1="110.8" x2="491.8" y2="125.0" stroke-width="0.9"/>
<line x1="523.2" y1="110.8" x2="512.9" y2="163.6" stroke-width="0.9"/>
<line x1="523.2" y1="110.8" x2="500.2" y2="148.5" stroke-width="0.9"/>
<line x1="523.2" y1="110.8" x2="475.5" y2="146.8" stroke-width="0.9"/>
<line x1="466.1" y1="119.6" x2="491.8" y2="125.0" stroke-width="0.9"/>
<line x1="466.1" y1="119.6" x2="475.5" y2="146.8" stroke-width="0.9"/>
<line x1="466.1" y1="119.6" x2="500.2" y2="148.5" stroke-width="0.9"/>
<line x1="466.1" y1="119.6" x2="479.1" y2="164.4" stroke-width="0.9"/>
<line x1="466.1" y1="119.6" x2="456.5" y2="195.9" stroke-width="0.9"/>
<line x1="466.1" y1="119.6" x2="453.8" y2="219.2" stroke-width="0.9"/>
<line x1="466.1" y1="119.6" x2="418.9" y2="163.5" stroke-width="0.9"/>
<line x1="491.8" y1="125.0" x2="475.5" y2="146.8" stroke-width="0.9"/>
<line x1="491.8" y1="125.0" x2="500.2" y2="148.5" stroke-width="0.9"/>
<line x1="491.8" y1="125.0" x2="479.1" y2="164.4" stroke-width="0.9"/>
<line x1="491.8" y1="125.0" x2="512.9" y2="163.6" stroke-width="0.9"/>
<line x1="475.5" y1="146.8" x2="500.2" y2="148.5" stroke-width="0.9"/>
<line x1="475.5" y1="146.8" x2="479.1" y2="164.4" stroke-width="0.9"/>
<line x1="500.2" y1="148.5" x2="512.9" y2="163.6" stroke-width="0.9"/>
<line x1="479.1" y1="164.4" x2="512.9" y2="163.6" stroke-width="0.9"/>
<line x1="475.5" y1="146.8" x2="512.9" y2="163.6" stroke-width="0.9"/>
<line x1="418.9" y1="163.5" x2="403.7" y2="182.0" stroke-width="0.9"/>
<line x1="418.9" y1="163.5" x2="466.1" y2="119.6" stroke-width="0.9"/>
<line x1="418.9" y1="163.5" x2="475.5" y2="146.8" stroke-width="0.9"/>
<line x1="418.9" y1="163.5" x2="479.1" y2="164.4" stroke-width="0.9"/>
<line x1="418.9" y1="163.5" x2="449.6" y2="121.7" stroke-width="0.9"/>
<line x1="401.8" y1="199.8" x2="466.1" y2="119.6" stroke-width="0.9"/>
<line x1="433.3" y1="177.3" x2="451.7" y2="110.3" stroke-width="0.9"/>
<line x1="340.4" y1="167.6" x2="449.6" y2="121.7" stroke-width="0.9"/>
<line x1="366.8" y1="143.4" x2="476.6" y2="92.0" stroke-width="0.9"/>
<line x1="433.3" y1="177.3" x2="403.7" y2="182.0" stroke-width="0.9"/>
<line x1="433.3" y1="177.3" x2="412.0" y2="215.7" stroke-width="0.9"/>
<line x1="433.3" y1="177.3" x2="432.7" y2="226.9" stroke-width="0.9"/>
<line x1="433.3" y1="177.3" x2="453.8" y2="219.2" stroke-width="0.9"/>
<line x1="433.3" y1="177.3" x2="479.1" y2="164.4" stroke-width="0.9"/>
<line x1="403.7" y1="182.0" x2="401.8" y2="199.8" stroke-width="0.9"/>
<line x1="403.7" y1="182.0" x2="453.8" y2="219.2" stroke-width="0.9"/>
<line x1="403.7" y1="182.0" x2="432.7" y2="226.9" stroke-width="0.9"/>
<line x1="401.8" y1="199.8" x2="412.0" y2="215.7" stroke-width="0.9"/>
<line x1="401.8" y1="199.8" x2="456.5" y2="195.9" stroke-width="0.9"/>
<line x1="401.8" y1="199.8" x2="432.7" y2="226.9" stroke-width="0.9"/>
<line x1="412.0" y1="215.7" x2="432.7" y2="226.9" stroke-width="0.9"/>
<line x1="412.0" y1="215.7" x2="456.5" y2="195.9" stroke-width="0.9"/>
<line x1="432.7" y1="226.9" x2="453.8" y2="219.2" stroke-width="0.9"/>
<line x1="453.8" y1="219.2" x2="456.5" y2="195.9" stroke-width="0.9"/>
<line x1="315.0" y1="142.4" x2="340.4" y2="167.6" stroke-width="0.9"/>
<line x1="315.0" y1="142.4" x2="326.9" y2="183.8" stroke-width="0.9"/>
<line x1="315.0" y1="142.4" x2="449.6" y2="121.7" stroke-width="0.9"/>
<line x1="315.0" y1="142.4" x2="346.0" y2="184.6" stroke-width="0.9"/>
<line x1="302.8" y1="166.8" x2="399.3" y2="140.2" stroke-width="0.9"/>
<line x1="302.8" y1="166.8" x2="340.4" y2="167.6" stroke-width="0.9"/>
<line x1="302.8" y1="166.8" x2="326.9" y2="183.8" stroke-width="0.9"/>
<line x1="302.8" y1="166.8" x2="302.8" y2="198.0" stroke-width="0.9"/>
<line x1="302.8" y1="166.8" x2="479.1" y2="164.4" stroke-width="0.9"/>
<line x1="340.4" y1="167.6" x2="326.9" y2="183.8" stroke-width="0.9"/>
<line x1="340.4" y1="167.6" x2="344.8" y2="145.6" stroke-width="0.9"/>
<line x1="340.4" y1="167.6" x2="366.8" y2="143.4" stroke-width="0.9"/>
<line x1="340.4" y1="167.6" x2="387.3" y2="123.7" stroke-width="0.9"/>
<line x1="340.4" y1="167.6" x2="400.7" y2="98.8" stroke-width="0.9"/>
<line x1="340.4" y1="167.6" x2="399.3" y2="140.2" stroke-width="0.9"/>
<line x1="326.9" y1="183.8" x2="366.8" y2="143.4" stroke-width="0.9"/>
<line x1="346.0" y1="184.6" x2="366.8" y2="143.4" stroke-width="0.9"/>
<line x1="344.8" y1="145.6" x2="366.8" y2="143.4" stroke-width="0.9"/>
<line x1="466.1" y1="119.6" x2="418.9" y2="163.5" stroke-width="1.2"/>
<line x1="340.4" y1="167.6" x2="466.1" y2="119.6" stroke-width="1.2"/>
<line x1="340.4" y1="167.6" x2="451.7" y2="110.3" stroke-width="0.9"/>
</g>
<g class="n">
<circle cx="53.0" cy="25.0" r="4.9" fill="#1a8a80"/>
<circle cx="81.6" cy="29.6" r="4.7" fill="#1a8a80"/>
<circle cx="97.8" cy="29.7" r="4.6" fill="#ee2a10"/>
<circle cx="106.8" cy="13.3" r="4.6" fill="#4f78b0"/>
<circle cx="145.2" cy="17.3" r="4.6" fill="#5aec5a"/>
<circle cx="187.5" cy="22.9" r="4.6" fill="#9bd428"/>
<circle cx="212.2" cy="22.3" r="5.9" fill="#9bd428"/>
<circle cx="221.7" cy="34.0" r="4.6" fill="#9bd428"/>
<circle cx="197.1" cy="38.0" r="5.3" fill="#9bd428"/>
<circle cx="153.6" cy="40.4" r="4.6" fill="#f4ec00"/>
<circle cx="176.3" cy="50.0" r="4.6" fill="#f4ec00"/>
<circle cx="219.4" cy="53.6" r="4.7" fill="#10e8e8"/>
<circle cx="240.6" cy="50.5" r="4.8" fill="#10e8e8"/>
<circle cx="245.0" cy="67.2" r="5.8" fill="#10e8e8"/>
<circle cx="265.5" cy="65.5" r="8.7" fill="#10e8e8"/>
<circle cx="222.7" cy="82.6" r="4.8" fill="#10e8e8"/>
<circle cx="36.3" cy="65.1" r="4.6" fill="#ee44ee"/>
<circle cx="60.2" cy="64.6" r="5.3" fill="#ee44ee"/>
<circle cx="11.4" cy="80.3" r="4.6" fill="#ee44ee"/>
<circle cx="90.6" cy="75.2" r="4.5" fill="#ee44ee"/>
<circle cx="105.0" cy="70.1" r="4.5" fill="#ee44ee"/>
<circle cx="62.3" cy="90.1" r="10.6" fill="#ee44ee"/>
<circle cx="17.8" cy="98.8" r="4.6" fill="#ee44ee"/>
<circle cx="91.8" cy="100.6" r="7.0" fill="#ee44ee"/>
<circle cx="102.4" cy="89.4" r="4.5" fill="#ee44ee"/>
<circle cx="43.1" cy="110.8" r="4.6" fill="#ee44ee"/>
<circle cx="70.0" cy="113.8" r="4.6" fill="#ee44ee"/>
<circle cx="85.7" cy="119.6" r="4.6" fill="#d4a010"/>
<circle cx="97.8" cy="121.4" r="4.8" fill="#d4a010"/>
<circle cx="125.8" cy="98.8" r="8.5" fill="#d4a010"/>
<circle cx="112.4" cy="123.7" r="7.5" fill="#d4a010"/>
<circle cx="136.1" cy="115.8" r="5.3" fill="#d4a010"/>
<circle cx="124.4" cy="140.2" r="5.3" fill="#d4a010"/>
<circle cx="91.9" cy="143.4" r="4.6" fill="#d4a010"/>
<circle cx="145.1" cy="79.3" r="5.6" fill="#f4ec00"/>
<circle cx="180.4" cy="81.1" r="8.3" fill="#8a63cf"/>
<circle cx="201.7" cy="92.0" r="7.6" fill="#8a63cf"/>
<circle cx="158.7" cy="102.2" r="4.6" fill="#8a63cf"/>
<circle cx="253.1" cy="93.5" r="4.6" fill="#8a63cf"/>
<circle cx="176.8" cy="110.3" r="7.1" fill="#8a63cf"/>
<circle cx="212.0" cy="106.2" r="4.8" fill="#8a63cf"/>
<circle cx="232.3" cy="111.5" r="4.6" fill="#8a63cf"/>
<circle cx="248.3" cy="110.8" r="4.6" fill="#8a63cf"/>
<circle cx="191.2" cy="119.6" r="6.0" fill="#8a63cf"/>
<circle cx="216.9" cy="125.0" r="5.8" fill="#8a63cf"/>
<circle cx="233.6" cy="128.0" r="4.8" fill="#8a63cf"/>
<circle cx="256.4" cy="124.2" r="4.6" fill="#8a63cf"/>
<circle cx="200.6" cy="146.8" r="6.0" fill="#8a63cf"/>
<circle cx="225.3" cy="148.5" r="6.0" fill="#8a63cf"/>
<circle cx="248.0" cy="146.4" r="4.8" fill="#8a63cf"/>
<circle cx="204.2" cy="164.4" r="5.7" fill="#8a63cf"/>
<circle cx="238.0" cy="163.6" r="10.8" fill="#8a63cf"/>
<circle cx="215.2" cy="190.0" r="14.9" fill="#8a63cf"/>
<circle cx="183.4" cy="151.6" r="4.6" fill="#2290e8"/>
<circle cx="144.0" cy="163.5" r="4.6" fill="#2290e8"/>
<circle cx="158.4" cy="177.3" r="5.6" fill="#2290e8"/>
<circle cx="128.8" cy="182.0" r="5.3" fill="#2290e8"/>
<circle cx="181.6" cy="195.9" r="5.9" fill="#2290e8"/>
<circle cx="126.9" cy="199.8" r="4.6" fill="#2290e8"/>
<circle cx="137.1" cy="215.7" r="4.6" fill="#2290e8"/>
<circle cx="178.9" cy="219.2" r="4.8" fill="#2290e8"/>
<circle cx="157.8" cy="226.9" r="6.0" fill="#2290e8"/>
<circle cx="40.1" cy="142.4" r="9.4" fill="#c055e0"/>
<circle cx="69.9" cy="145.6" r="5.3" fill="#c055e0"/>
<circle cx="27.9" cy="166.8" r="5.3" fill="#c055e0"/>
<circle cx="65.5" cy="167.6" r="5.3" fill="#c055e0"/>
<circle cx="16.8" cy="185.3" r="4.6" fill="#c055e0"/>
<circle cx="52.0" cy="183.8" r="4.8" fill="#c055e0"/>
<circle cx="71.1" cy="184.6" r="4.6" fill="#c055e0"/>
<circle cx="27.9" cy="198.0" r="5.3" fill="#c055e0"/>
<circle cx="52.0" cy="208.7" r="4.6" fill="#c055e0"/>
<circle cx="327.9" cy="25.0" r="4.8" fill="#1a8a80"/>
<circle cx="356.5" cy="29.6" r="4.6" fill="#1a8a80"/>
<circle cx="381.7" cy="13.3" r="4.6" fill="#4f78b0"/>
<circle cx="462.4" cy="22.9" r="4.6" fill="#9bd428"/>
<circle cx="487.1" cy="22.3" r="5.5" fill="#9bd428"/>
<circle cx="472.0" cy="38.0" r="5.2" fill="#9bd428"/>
<circle cx="428.5" cy="40.4" r="4.6" fill="#f4ec00"/>
<circle cx="451.2" cy="50.0" r="4.6" fill="#f4ec00"/>
<circle cx="515.5" cy="50.5" r="4.8" fill="#10e8e8"/>
<circle cx="519.9" cy="67.2" r="5.5" fill="#10e8e8"/>
<circle cx="540.4" cy="65.5" r="7.9" fill="#10e8e8"/>
<circle cx="497.6" cy="82.6" r="4.6" fill="#10e8e8"/>
<circle cx="311.2" cy="65.1" r="4.6" fill="#ee44ee"/>
<circle cx="335.1" cy="64.6" r="5.3" fill="#ee44ee"/>
<circle cx="286.3" cy="80.3" r="4.6" fill="#ee44ee"/>
<circle cx="365.5" cy="75.2" r="4.5" fill="#ee44ee"/>
<circle cx="379.9" cy="70.1" r="4.5" fill="#ee44ee"/>
<circle cx="337.2" cy="90.1" r="7.6" fill="#ee44ee"/>
<circle cx="292.7" cy="98.8" r="4.6" fill="#ee44ee"/>
<circle cx="366.7" cy="100.6" r="6.0" fill="#ee44ee"/>
<circle cx="374.4" cy="87.9" r="4.5" fill="#ee44ee"/>
<circle cx="318.0" cy="110.8" r="4.6" fill="#ee44ee"/>
<circle cx="344.9" cy="113.8" r="4.6" fill="#ee44ee"/>
<circle cx="365.6" cy="47.5" r="4.6" fill="#ee44ee"/>
<circle cx="360.6" cy="119.6" r="4.6" fill="#d4a010"/>
<circle cx="400.7" cy="98.8" r="6.6" fill="#d4a010"/>
<circle cx="387.3" cy="123.7" r="6.4" fill="#d4a010"/>
<circle cx="411.0" cy="115.8" r="5.3" fill="#d4a010"/>
<circle cx="399.3" cy="140.2" r="5.0" fill="#d4a010"/>
<circle cx="366.8" cy="143.4" r="4.6" fill="#d4a010"/>
<circle cx="420.0" cy="79.3" r="5.6" fill="#f4ec00"/>
<circle cx="410.7" cy="35.5" r="4.6" fill="#4a58dc"/>
<circle cx="478.4" cy="60.8" r="4.6" fill="#9bd428"/>
<circle cx="455.3" cy="81.1" r="7.1" fill="#8a63cf"/>
<circle cx="476.6" cy="92.0" r="6.0" fill="#8a63cf"/>
<circle cx="433.6" cy="102.2" r="4.6" fill="#8a63cf"/>
<circle cx="422.2" cy="104.9" r="4.6" fill="#8a63cf"/>
<circle cx="451.7" cy="110.3" r="5.7" fill="#8a63cf"/>
<circle cx="486.9" cy="106.2" r="4.8" fill="#8a63cf"/>
<circle cx="523.2" cy="110.8" r="4.6" fill="#8a63cf"/>
<circle cx="466.1" cy="119.6" r="5.6" fill="#8a63cf"/>
<circle cx="491.8" cy="125.0" r="5.0" fill="#8a63cf"/>
<circle cx="449.6" cy="121.7" r="4.6" fill="#8a63cf"/>
<circle cx="475.5" cy="146.8" r="5.0" fill="#8a63cf"/>
<circle cx="500.2" cy="148.5" r="5.0" fill="#8a63cf"/>
<circle cx="479.1" cy="164.4" r="5.0" fill="#8a63cf"/>
<circle cx="512.9" cy="163.6" r="4.8" fill="#8a63cf"/>
<circle cx="490.1" cy="190.0" r="10.7" fill="#8a63cf"/>
<circle cx="418.9" cy="163.5" r="4.6" fill="#2290e8"/>
<circle cx="433.3" cy="177.3" r="5.6" fill="#2290e8"/>
<circle cx="403.7" cy="182.0" r="5.3" fill="#2290e8"/>
<circle cx="456.5" cy="195.9" r="5.9" fill="#2290e8"/>
<circle cx="401.8" cy="199.8" r="4.6" fill="#2290e8"/>
<circle cx="412.0" cy="215.7" r="4.6" fill="#2290e8"/>
<circle cx="453.8" cy="219.2" r="4.8" fill="#2290e8"/>
<circle cx="432.7" cy="226.9" r="6.0" fill="#2290e8"/>
<circle cx="315.0" cy="142.4" r="7.7" fill="#c055e0"/>
<circle cx="344.8" cy="145.6" r="5.3" fill="#c055e0"/>
<circle cx="302.8" cy="166.8" r="5.3" fill="#c055e0"/>
<circle cx="340.4" cy="167.6" r="5.3" fill="#c055e0"/>
<circle cx="326.9" cy="183.8" r="4.8" fill="#c055e0"/>
<circle cx="346.0" cy="184.6" r="4.6" fill="#c055e0"/>
<circle cx="302.8" cy="198.0" r="5.3" fill="#c055e0"/>
</g>
<g class="l">
<text x="53.0" y="26.5" font-size="4.2">H35</text>
<text x="81.6" y="31.0" font-size="4.0">H25</text>
<text x="97.8" y="31.1" font-size="3.9">R42</text>
<text x="106.8" y="14.7" font-size="3.9">H81</text>
<text x="145.2" y="18.7" font-size="3.9">F41</text>
<text x="187.5" y="24.3" font-size="3.9">G47</text>
<text x="212.2" y="24.3" font-size="5.5">G45</text>
<text x="221.7" y="35.4" font-size="3.9">G44</text>
<text x="197.1" y="39.7" font-size="4.6">G31</text>
<text x="153.6" y="41.8" font-size="3.9">D63</text>
<text x="176.3" y="51.4" font-size="3.9">D50</text>
<text x="219.4" y="55.0" font-size="4.0">N19</text>
<text x="240.6" y="52.0" font-size="4.1">N39</text>
<text x="245.0" y="69.1" font-size="5.3">N28</text>
<text class="b" x="265.5" y="68.7" font-size="8.9">N40</text>
<text x="222.7" y="84.1" font-size="4.1">N18</text>
<text x="36.3" y="66.5" font-size="3.9">K31</text>
<text x="60.2" y="66.3" font-size="4.6">K80</text>
<text x="11.4" y="81.7" font-size="3.9">K52</text>
<text x="90.6" y="76.6" font-size="3.8">K59</text>
<text x="105.0" y="71.5" font-size="3.8">K25</text>
<text class="b" x="62.3" y="94.0" font-size="10.8">K29</text>
<text x="17.8" y="100.2" font-size="3.9">K72</text>
<text class="b" x="91.8" y="103.2" font-size="7.1">K76</text>
<text x="102.4" y="90.8" font-size="3.8">K27</text>
<text x="43.1" y="112.2" font-size="3.9">K21</text>
<text x="70.0" y="115.2" font-size="3.9">K86</text>
<text x="85.7" y="121.0" font-size="3.9">E14</text>
<text x="97.8" y="122.9" font-size="4.1">E03</text>
<text class="b" x="125.8" y="101.9" font-size="8.7">E11</text>
<text class="b" x="112.4" y="126.5" font-size="7.7">E78</text>
<text x="136.1" y="117.5" font-size="4.6">E77</text>
<text x="124.4" y="141.9" font-size="4.6">E79</text>
<text x="91.9" y="144.8" font-size="3.9">E06</text>
<text x="145.1" y="81.1" font-size="5.0">D64</text>
<text class="b" x="180.4" y="84.1" font-size="8.5">I63</text>
<text class="b" x="201.7" y="94.8" font-size="7.8">I67</text>
<text x="158.7" y="103.6" font-size="3.9">I83</text>
<text x="253.1" y="94.9" font-size="3.9">I91</text>
<text class="b" x="176.8" y="112.9" font-size="7.2">I70</text>
<text x="212.0" y="107.7" font-size="4.1">I69</text>
<text x="232.3" y="112.9" font-size="3.9">I45</text>
<text x="248.3" y="112.2" font-size="3.9">I38</text>
<text x="191.2" y="121.6" font-size="5.6">I27</text>
<text x="216.9" y="126.9" font-size="5.3">I48</text>
<text x="233.6" y="129.5" font-size="4.1">I44</text>
<text x="256.4" y="125.6" font-size="3.9">I82</text>
<text x="200.6" y="148.8" font-size="5.6">I51</text>
<text x="225.3" y="150.5" font-size="5.6">I49</text>
<text x="248.0" y="147.9" font-size="4.1">I87</text>
<text x="204.2" y="166.3" font-size="5.2">I11</text>
<text class="b" x="238.0" y="167.6" font-size="11.0">I50</text>
<text class="b" x="215.2" y="195.5" font-size="15.2">I10</text>
<text x="183.4" y="153.0" font-size="3.9">M48</text>
<text x="144.0" y="164.9" font-size="3.9">M89</text>
<text x="158.4" y="179.1" font-size="5.0">M86</text>
<text x="128.8" y="183.7" font-size="4.6">M81</text>
<text x="181.6" y="197.9" font-size="5.5">M47</text>
<text x="126.9" y="201.2" font-size="3.9">M19</text>
<text x="137.1" y="217.1" font-size="3.9">M17</text>
<text x="178.9" y="220.7" font-size="4.1">M50</text>
<text x="157.8" y="228.9" font-size="5.6">M51</text>
<text class="b" x="40.1" y="145.9" font-size="9.6">J44</text>
<text x="69.9" y="147.3" font-size="4.6">J18</text>
<text x="27.9" y="168.5" font-size="4.6">J43</text>
<text x="65.5" y="169.3" font-size="4.6">J06</text>
<text x="16.8" y="186.7" font-size="3.9">J45</text>
<text x="52.0" y="185.3" font-size="4.1">J47</text>
<text x="71.1" y="186.0" font-size="3.9">J32</text>
<text x="27.9" y="199.7" font-size="4.6">J42</text>
<text x="52.0" y="210.1" font-size="3.9">J84</text>
<text x="327.9" y="26.5" font-size="4.1">H35</text>
<text x="356.5" y="31.0" font-size="3.9">H25</text>
<text x="381.7" y="14.7" font-size="3.9">H81</text>
<text x="462.4" y="24.3" font-size="3.9">G47</text>
<text x="487.1" y="24.1" font-size="4.9">G45</text>
<text x="472.0" y="39.6" font-size="4.5">G31</text>
<text x="428.5" y="41.8" font-size="3.9">D63</text>
<text x="451.2" y="51.4" font-size="3.9">D50</text>
<text x="515.5" y="52.0" font-size="4.1">N39</text>
<text x="519.9" y="69.0" font-size="4.9">N28</text>
<text class="b" x="540.4" y="68.4" font-size="8.1">N40</text>
<text x="497.6" y="84.0" font-size="3.9">N18</text>
<text x="311.2" y="66.5" font-size="3.9">K31</text>
<text x="335.1" y="66.3" font-size="4.6">K80</text>
<text x="286.3" y="81.7" font-size="3.9">K52</text>
<text x="365.5" y="76.6" font-size="3.8">K59</text>
<text x="379.9" y="71.5" font-size="3.8">K25</text>
<text class="b" x="337.2" y="92.9" font-size="7.8">K29</text>
<text x="292.7" y="100.2" font-size="3.9">K72</text>
<text x="366.7" y="102.6" font-size="5.6">K76</text>
<text x="374.4" y="89.3" font-size="3.8">K70</text>
<text x="318.0" y="112.2" font-size="3.9">K21</text>
<text x="344.9" y="115.2" font-size="3.9">K86</text>
<text x="365.6" y="48.9" font-size="3.9">K63</text>
<text x="360.6" y="121.0" font-size="3.9">E14</text>
<text x="400.7" y="101.1" font-size="6.5">E11</text>
<text x="387.3" y="125.9" font-size="6.2">E78</text>
<text x="411.0" y="117.5" font-size="4.6">E77</text>
<text x="399.3" y="141.7" font-size="4.2">E79</text>
<text x="366.8" y="144.8" font-size="3.9">E06</text>
<text x="420.0" y="81.1" font-size="5.0">D64</text>
<text x="410.7" y="36.9" font-size="3.9">C34</text>
<text x="478.4" y="62.2" font-size="3.9">G83</text>
<text class="b" x="455.3" y="83.7" font-size="7.2">I63</text>
<text x="476.6" y="94.0" font-size="5.6">I67</text>
<text x="433.6" y="103.6" font-size="3.9">I83</text>
<text x="422.2" y="106.3" font-size="3.9">I84</text>
<text x="451.7" y="112.2" font-size="5.2">I70</text>
<text x="486.9" y="107.7" font-size="4.1">I69</text>
<text x="523.2" y="112.2" font-size="3.9">I38</text>
<text x="466.1" y="121.4" font-size="5.0">I27</text>
<text x="491.8" y="126.5" font-size="4.2">I48</text>
<text x="449.6" y="123.1" font-size="3.9">I61</text>
<text x="475.5" y="148.3" font-size="4.2">I51</text>
<text x="500.2" y="150.0" font-size="4.2">I49</text>
<text x="479.1" y="165.9" font-size="4.2">I11</text>
<text x="512.9" y="165.1" font-size="4.1">I50</text>
<text class="b" x="490.1" y="193.9" font-size="10.9">I10</text>
<text x="418.9" y="164.9" font-size="3.9">M89</text>
<text x="433.3" y="179.1" font-size="5.0">M86</text>
<text x="403.7" y="183.7" font-size="4.6">M81</text>
<text x="456.5" y="197.9" font-size="5.5">M47</text>
<text x="401.8" y="201.2" font-size="3.9">M19</text>
<text x="412.0" y="217.1" font-size="3.9">M17</text>
<text x="453.8" y="220.7" font-size="4.1">M50</text>
<text x="432.7" y="228.9" font-size="5.6">M51</text>
<text class="b" x="315.0" y="145.2" font-size="7.9">J44</text>
<text x="344.8" y="147.3" font-size="4.6">J18</text>
<text x="302.8" y="168.5" font-size="4.6">J43</text>
<text x="340.4" y="169.3" font-size="4.6">J06</text>
<text x="326.9" y="185.3" font-size="4.1">J47</text>
<text x="346.0" y="186.0" font-size="3.9">J32</text>
<text x="302.8" y="199.7" font-size="4.6">J42</text>
</g>
<g class="lg">
<circle cx="15.3" cy="241.2" r="2.6" fill="#f0dc30"/>
<text x="22.4" y="243.8">Blood and Blood-forming organs&#160; (D50-D89)</text>
<circle cx="15.3" cy="251.7" r="2.6" fill="#f0c020"/>
<text x="22.4" y="254.3">Endocrine, Nutritional, and Metabolic Diseases (E00-E89)</text>
<circle cx="15.3" cy="262.2" r="2.6" fill="#5aec5a"/>
<text x="22.4" y="264.8">Mental disorders (F01-F99)</text>
<circle cx="15.3" cy="272.7" r="2.6" fill="#9bd428"/>
<text x="22.4" y="275.3">Nervous System (G00-G99)</text>
<circle cx="15.3" cy="283.2" r="2.6" fill="#1a8a80"/>
<text x="22.4" y="285.8">Ear (H00-H59)</text>
<circle cx="15.3" cy="293.6" r="2.6" fill="#4f78b0"/>
<text x="22.4" y="296.2">Eye (H60-H95)</text>
<circle cx="15.3" cy="304.1" r="2.6" fill="#8a63cf"/>
<text x="22.9" y="306.7">Circulatory System (I00-I99)</text>
<circle cx="15.3" cy="314.6" r="2.6" fill="#c055e0"/>
<text x="24.2" y="317.2">Respiratory System (J00-J99)</text>
<circle cx="15.3" cy="325.1" r="2.6" fill="#ee44ee"/>
<text x="21.6" y="327.7">Digestive System&#160; (K00-K95)</text>
<circle cx="15.3" cy="335.6" r="2.6" fill="#2290e8"/>
<text x="21.6" y="338.2">Musculoskeletal System and Connective Tissue (M00-M99)</text>
<circle cx="15.3" cy="346.1" r="2.6" fill="#ee2a10"/>
<text x="21.6" y="348.7">Symptoms and Signs (R00-R99)</text>
</g>
<g class="s">
<text x="315.2" y="256" font-size="8.95">Node size (Prevalence)</text>
<circle cx="337.2" cy="272.9" r="4.4" fill="none" stroke="#8a8a8a" stroke-width="0.6"/>
<circle cx="337.2" cy="297.5" r="9.5" fill="none" stroke="#8a8a8a" stroke-width="0.6"/>
<circle cx="337.2" cy="331.3" r="15.2" fill="none" stroke="#8a8a8a" stroke-width="0.6"/>
<text x="356.8" y="275.6" font-size="7.25">1%</text>
<text x="356.8" y="300.2" font-size="7.25">25%</text>
<text x="356.8" y="334.0" font-size="7.25">50%</text>
<text x="456.4" y="255.3" font-size="8.95">Edge weight</text>
<line x1="446.9" y1="274.6" x2="475" y2="274.6" stroke="#666" stroke-width="0.6"/>
<line x1="446.9" y1="301.6" x2="475" y2="301.6" stroke="#666" stroke-width="1.2"/>
<line x1="446.9" y1="328.0" x2="475" y2="328.0" stroke="#555" stroke-width="1.8"/>
<text x="490.9" y="277.2" font-size="7.25">OER &lt; 3</text>
<text x="490.9" y="304.0" font-size="7.25">OER &lt;&#160; 6</text>
<text x="490.9" y="330.8" font-size="7.25">OER &lt; 12</text>
</g>
</svg>
</body></html>
